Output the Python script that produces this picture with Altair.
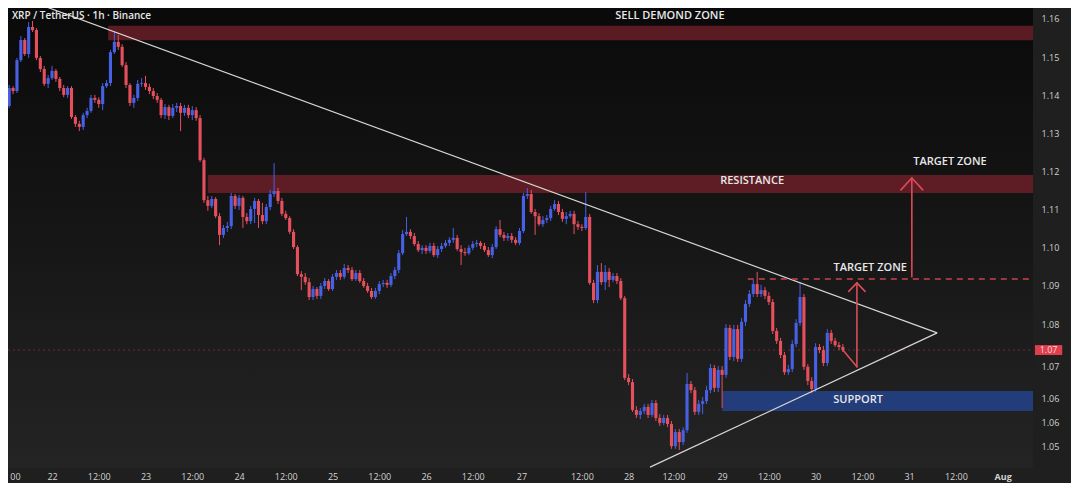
import json
import altair as alt
import pandas as pd

# ---------------- data (hourly candles) ----------------
first_open = 1.1372
close = [
    1.1419, 1.1411, 1.1492, 1.1545, 1.1508, 1.1579, 1.1571, 1.1498, 1.1469, 1.1430,
    1.1445, 1.1464, 1.1443, 1.1419, 1.1401, 1.1419, 1.1343, 1.1325, 1.1317, 1.1348,
    1.1359, 1.1393, 1.1388, 1.1377, 1.1424, 1.1432, 1.1513, 1.1540, 1.1527, 1.1479,
    1.1427, 1.1380, 1.1393, 1.1430, 1.1432, 1.1422, 1.1411, 1.1398, 1.1388, 1.1348,
    1.1369, 1.1346, 1.1367, 1.1372, 1.1354, 1.1367, 1.1348, 1.1361, 1.1340, 1.1230,
    1.1125, 1.1110, 1.1128, 1.1083, 1.1034, 1.1052, 1.1057, 1.1136, 1.1110, 1.1131,
    1.1081, 1.1070, 1.1102, 1.1123, 1.1086, 1.1070, 1.1107, 1.1141, 1.1149, 1.1123,
    1.1089, 1.1078, 1.1042, 1.1002, 1.0931, 1.0924, 1.0910, 1.0871, 1.0892, 1.0874,
    1.0900, 1.0913, 1.0892, 1.0924, 1.0934, 1.0924, 1.0947, 1.0942, 1.0918, 1.0934,
    1.0913, 1.0900, 1.0887, 1.0871, 1.0887, 1.0905, 1.0908, 1.0903, 1.0926, 1.0942,
    1.0986, 1.1036, 1.1042, 1.1031, 1.1010, 1.0994, 1.1000, 1.0992, 1.1005, 1.0981,
    1.0997, 1.1005, 1.1013, 1.1021, 1.1026, 1.0997, 1.0989, 1.0986, 1.1000, 1.1010,
    1.1013, 1.1005, 1.0994, 1.0981, 1.1002, 1.1049, 1.1034, 1.1026, 1.1031, 1.1021,
    1.1013, 1.1044, 1.1136, 1.1141, 1.1094, 1.1083, 1.1062, 1.1073, 1.1078, 1.1102,
    1.1115, 1.1094, 1.1076, 1.1083, 1.1089, 1.1062, 1.1055, 1.1052, 1.1081, 1.0908,
    1.0863, 1.0937, 1.0910, 1.0937, 1.0916, 1.0926, 1.0913, 1.0868, 1.0659, 1.0648,
    1.0575, 1.0562, 1.0572, 1.0583, 1.0562, 1.0593, 1.0554, 1.0541, 1.0554, 1.0538,
    1.0480, 1.0517, 1.0491, 1.0522, 1.0643, 1.0627, 1.0570, 1.0591, 1.0598, 1.0627,
    1.0685, 1.0633, 1.0680, 1.0667, 1.0790, 1.0714, 1.0787, 1.0709, 1.0806, 1.0853,
    1.0879, 1.0905, 1.0879, 1.0889, 1.0874, 1.0858, 1.0782, 1.0756, 1.0719, 1.0674,
    1.0682, 1.0748, 1.0803, 1.0871, 1.0688, 1.0651, 1.0630, 1.0740, 1.0732, 1.0698,
    1.0777, 1.0756, 1.0745, 1.0740, 1.0732,
]
high = [
    1.1427, 1.1424, 1.1498, 1.1555, 1.1550, 1.1592, 1.1595, 1.1576, 1.1503, 1.1477,
    1.1453, 1.1477, 1.1469, 1.1448, 1.1427, 1.1424, 1.1424, 1.1348, 1.1333, 1.1354,
    1.1367, 1.1401, 1.1401, 1.1395, 1.1432, 1.1440, 1.1519, 1.1566, 1.1558, 1.1534,
    1.1487, 1.1432, 1.1401, 1.1440, 1.1445, 1.1451, 1.1430, 1.1419, 1.1406, 1.1393,
    1.1377, 1.1375, 1.1377, 1.1380, 1.1380, 1.1375, 1.1375, 1.1372, 1.1369, 1.1348,
    1.1236, 1.1136, 1.1136, 1.1133, 1.1091, 1.1060, 1.1068, 1.1144, 1.1141, 1.1139,
    1.1136, 1.1091, 1.1110, 1.1131, 1.1128, 1.1118, 1.1115, 1.1152, 1.1222, 1.1157,
    1.1131, 1.1097, 1.1083, 1.1049, 1.1007, 1.0939, 1.0934, 1.0921, 1.0900, 1.0897,
    1.0908, 1.0921, 1.0918, 1.0931, 1.0942, 1.0942, 1.0958, 1.0955, 1.0950, 1.0942,
    1.0942, 1.0921, 1.0908, 1.0895, 1.0895, 1.0913, 1.0916, 1.0916, 1.0934, 1.0950,
    1.0994, 1.1047, 1.1081, 1.1049, 1.1039, 1.1018, 1.1007, 1.1007, 1.1013, 1.1013,
    1.1005, 1.1013, 1.1021, 1.1028, 1.1052, 1.1034, 1.1007, 1.1000, 1.1007, 1.1018,
    1.1021, 1.1018, 1.1013, 1.1002, 1.1010, 1.1057, 1.1073, 1.1042, 1.1039, 1.1039,
    1.1028, 1.1052, 1.1144, 1.1157, 1.1152, 1.1102, 1.1091, 1.1083, 1.1086, 1.1110,
    1.1125, 1.1123, 1.1102, 1.1094, 1.1097, 1.1097, 1.1070, 1.1062, 1.1146, 1.1089,
    1.0916, 1.0955, 1.0960, 1.0955, 1.0947, 1.0934, 1.0934, 1.0921, 1.0874, 1.0669,
    1.0656, 1.0585, 1.0580, 1.0591, 1.0591, 1.0601, 1.0601, 1.0564, 1.0562, 1.0562,
    1.0546, 1.0525, 1.0525, 1.0530, 1.0672, 1.0651, 1.0635, 1.0601, 1.0609, 1.0638,
    1.0695, 1.0693, 1.0690, 1.0690, 1.0800, 1.0798, 1.0798, 1.0798, 1.0816, 1.0863,
    1.0889, 1.0916, 1.0937, 1.0903, 1.0897, 1.0884, 1.0866, 1.0790, 1.0764, 1.0727,
    1.0693, 1.0758, 1.0813, 1.0910, 1.0879, 1.0695, 1.0661, 1.0750, 1.0748, 1.0743,
    1.0787, 1.0785, 1.0764, 1.0753, 1.0748,
]
low = [
    1.1367, 1.1403, 1.1406, 1.1487, 1.1503, 1.1498, 1.1566, 1.1492, 1.1461, 1.1424,
    1.1419, 1.1440, 1.1435, 1.1411, 1.1395, 1.1393, 1.1338, 1.1317, 1.1306, 1.1309,
    1.1340, 1.1354, 1.1380, 1.1367, 1.1361, 1.1419, 1.1424, 1.1508, 1.1519, 1.1474,
    1.1419, 1.1372, 1.1367, 1.1385, 1.1422, 1.1414, 1.1403, 1.1390, 1.1380, 1.1340,
    1.1338, 1.1335, 1.1340, 1.1356, 1.1306, 1.1346, 1.1340, 1.1335, 1.1333, 1.1225,
    1.1118, 1.1097, 1.1104, 1.1078, 1.1007, 1.1026, 1.1042, 1.1049, 1.1102, 1.1099,
    1.1052, 1.1062, 1.1062, 1.1065, 1.1052, 1.1062, 1.1062, 1.1099, 1.1133, 1.1115,
    1.1083, 1.1073, 1.1036, 1.0997, 1.0926, 1.0889, 1.0903, 1.0863, 1.0863, 1.0866,
    1.0866, 1.0892, 1.0887, 1.0887, 1.0916, 1.0916, 1.0918, 1.0934, 1.0913, 1.0913,
    1.0908, 1.0895, 1.0882, 1.0866, 1.0866, 1.0879, 1.0897, 1.0895, 1.0897, 1.0918,
    1.0934, 1.0981, 1.1031, 1.1023, 1.1005, 1.0989, 1.0984, 1.0984, 1.0986, 1.0976,
    1.0973, 1.0989, 1.1000, 1.1005, 1.1013, 1.0992, 1.0955, 1.0979, 1.0981, 1.0994,
    1.1002, 1.0997, 1.0989, 1.0976, 1.0973, 1.0997, 1.1028, 1.1018, 1.1018, 1.1013,
    1.1007, 1.1007, 1.1039, 1.1128, 1.1089, 1.1034, 1.1057, 1.1055, 1.1065, 1.1070,
    1.1097, 1.1086, 1.1068, 1.1062, 1.1078, 1.1036, 1.1047, 1.1044, 1.1047, 1.0903,
    1.0855, 1.0855, 1.0903, 1.0889, 1.0897, 1.0910, 1.0905, 1.0863, 1.0653, 1.0640,
    1.0570, 1.0554, 1.0551, 1.0564, 1.0554, 1.0556, 1.0546, 1.0533, 1.0535, 1.0530,
    1.0473, 1.0473, 1.0470, 1.0483, 1.0515, 1.0619, 1.0562, 1.0562, 1.0564, 1.0591,
    1.0619, 1.0622, 1.0622, 1.0580, 1.0659, 1.0706, 1.0703, 1.0701, 1.0701, 1.0795,
    1.0845, 1.0871, 1.0871, 1.0871, 1.0866, 1.0850, 1.0774, 1.0748, 1.0711, 1.0667,
    1.0667, 1.0674, 1.0740, 1.0795, 1.0680, 1.0640, 1.0619, 1.0622, 1.0724, 1.0690,
    1.0690, 1.0748, 1.0740, 1.0732, 1.0727,
]
# hours relative to Jul 22 00:00 (one candle per hour)
hours = list(range(-11, -11 + len(close)))
open_ = [first_open] + close[:-1]

# axis ticks (hour positions as drawn) and labels
x_tick_pos = [-9.5, 0, 12, 24, 36, 48, 60, 72, 84, 96, 108, 120.5, 136, 148, 159.5,
              172, 184, 196, 208, 220, 232, 244]
x_tick_text = ["00", "22", "12:00", "23", "12:00", "24", "12:00", "25", "12:00", "26",
               "12:00", "27", "12:00", "28", "12:00", "29", "12:00", "30", "12:00",
               "31", "12:00", "Aug"]
y_tick_val = [1.16, 1.15, 1.14, 1.13, 1.12, 1.11, 1.10, 1.09, 1.08,
              1.0688, 1.0606, 1.0541, 1.0478]
y_tick_text = ["1.16", "1.15", "1.14", "1.13", "1.12", "1.11", "1.10", "1.09", "1.08",
               "1.07", "1.06", "1.06", "1.05"]

# zones
zone_name = ["SELL DEMOND ZONE", "RESISTANCE", "SUPPORT"]
zone_h1 = [14.4, 40.0, 172.0]
zone_top = [1.1582, 1.1191, 1.0625]
zone_bot = [1.1544, 1.1144, 1.0572]
zone_color = ["#5a1b22", "#5e1d25", "#233c7a"]

# drawn trend lines (start/end points in hours, price)
trend_h1 = [-1.3, 153.5]
trend_p1 = [1.1631, 1.0425]
trend_h2 = [227.2, 227.2]
trend_p2 = [1.0777, 1.0777]

target_level = 1.0918
target_start = 178.6

# arrows: segments
arrow_h1 = [203.0, 206.6, 204.5, 206.6, 220.7, 217.9, 220.7]
arrow_p1 = [1.0732, 1.0688, 1.0886, 1.0908, 1.0924, 1.1152, 1.1183]
arrow_h2 = [206.6, 206.6, 206.6, 208.7, 220.7, 220.7, 223.5]
arrow_p2 = [1.0688, 1.0908, 1.0908, 1.0886, 1.1183, 1.1183, 1.1152]

# annotation texts
label_text = ["SELL DEMOND ZONE", "RESISTANCE", "TARGET ZONE", "TARGET ZONE", "SUPPORT"]
label_h = [158.6, 179.7, 230.5, 210.0, 206.9]
label_p = [1.1609, 1.1175, 1.1225, 1.0947, 1.0601]
title_text = "XRP / TetherUS · 1h · Binance"

# ---------------- chart ----------------
W, H = 1025, 460
X_DOM = [-11.3, 251.8]
Y_DOM = [1.04228, 1.16288]
BLUE, RED = "#4761e6", "#e6505c"
FONT = "Open Sans"

candles = pd.DataFrame({"h": hours, "open": open_, "high": high, "low": low, "close": close})
candles["dir"] = ["up" if c >= o else "down" for o, c in zip(open_, close)]

xs = alt.Scale(domain=X_DOM, nice=False, zero=False)
ys = alt.Scale(domain=Y_DOM, nice=False, zero=False)

x_label_expr = "{}[indexof({}, datum.value)]".format(json.dumps(x_tick_text), json.dumps(x_tick_pos))
y_label_expr = "{}[indexof({}, datum.value)]".format(json.dumps(y_tick_text), json.dumps(y_tick_val))

x_axis = alt.Axis(values=x_tick_pos, labelExpr=x_label_expr, title=None, domain=False,
                  ticks=False, grid=False, labelColor="#d2d2d2", labelFont=FONT,
                  labelFontSize=9, labelPadding=4, labelAngle=0, labelOverlap=False,
                  labelFlush=False,
                  labelFontWeight={"condition": {"test": "datum.value > 240", "value": "bold"},
                                   "value": "normal"})
y_axis = alt.Axis(orient="right", values=y_tick_val, labelExpr=y_label_expr, title=None,
                  domain=False, ticks=False, grid=False, labelColor="#cfcfcf",
                  labelFont=FONT, labelFontSize=9, labelPadding=8, labelOverlap=False)


def X(f):
    return alt.X(f, type="quantitative", scale=xs, axis=x_axis)


def Y(f):
    return alt.Y(f, type="quantitative", scale=ys, axis=y_axis)


bg = alt.Chart(pd.DataFrame({"k": [0]})).mark_rect(
    color=alt.Gradient(gradient="linear",
                       stops=[alt.GradientStop(color="#0a0a0a", offset=0),
                              alt.GradientStop(color="#161616", offset=0.5),
                              alt.GradientStop(color="#242424", offset=1)],
                       x1=0, x2=0, y1=0, y2=1)
).encode(x=alt.value(0), x2=alt.value(W), y=alt.value(0), y2=alt.value(H))

zones = pd.DataFrame({"name": zone_name, "h1": zone_h1, "h2": [X_DOM[1]] * 3,
                      "top": zone_top, "bot": zone_bot, "col": zone_color})
zone_layer = alt.Chart(zones).mark_rect(clip=True).encode(
    x=X("h1"), x2=alt.X2("h2"), y=Y("top"), y2=alt.Y2("bot"),
    color=alt.Color("col:N", scale=None, legend=None))

cp = pd.DataFrame({"h1": [X_DOM[0]], "h2": [X_DOM[1]], "p": [close[-1]]})
cp_layer = alt.Chart(cp).mark_rule(color="#6a2a30", strokeDash=[2, 3], strokeWidth=1, clip=True).encode(
    x=X("h1"), x2=alt.X2("h2"), y=Y("p"))

color_enc = alt.Color("dir:N", scale=alt.Scale(domain=["up", "down"], range=[BLUE, RED]), legend=None)
wicks = alt.Chart(candles).mark_rule(strokeWidth=1, clip=True).encode(
    x=X("h"), y=Y("low"), y2=alt.Y2("high"), color=color_enc)
bodies = alt.Chart(candles).transform_calculate(
    b1="datum.h - 0.4", b2="datum.h + 0.4"
).mark_rect(clip=True).encode(
    x=X("b1"), x2=alt.X2("b2"), y=Y("open"), y2=alt.Y2("close"), color=color_enc)

trend = pd.DataFrame({"h1": trend_h1, "p1": trend_p1, "h2": trend_h2, "p2": trend_p2})
trend_layer = alt.Chart(trend).mark_rule(color="#d6d6d6", strokeWidth=1.2, clip=True).encode(
    x=X("h1"), y=Y("p1"), x2=alt.X2("h2"), y2=alt.Y2("p2"))

tgt = pd.DataFrame({"h1": [target_start], "h2": [X_DOM[1]], "p": [target_level]})
tgt_layer = alt.Chart(tgt).mark_rule(color="#c9434e", strokeDash=[6, 5], strokeWidth=1.5, clip=True).encode(
    x=X("h1"), x2=alt.X2("h2"), y=Y("p"))

arrows = pd.DataFrame({"h1": arrow_h1, "p1": arrow_p1, "h2": arrow_h2, "p2": arrow_p2})
arrow_layer = alt.Chart(arrows).mark_rule(color="#dc4b57", strokeWidth=1.6, strokeCap="round", clip=True).encode(
    x=X("h1"), y=Y("p1"), x2=alt.X2("h2"), y2=alt.Y2("p2"))

labels = pd.DataFrame({"t": label_text, "h": label_h, "p": label_p})
label_layer = alt.Chart(labels).mark_text(
    color="#e8e8e8", font=FONT, fontSize=11, fontWeight=600, align="center", baseline="middle"
).encode(x=X("h"), y=Y("p"), text="t:N")

title_df = pd.DataFrame({"t": [title_text], "h": [-10.3], "p": [1.1609]})
title_layer = alt.Chart(title_df).mark_text(
    color="#e6e6e6", font=FONT, fontSize=10, fontWeight=600, align="left", baseline="middle"
).encode(x=X("h"), y=Y("p"), text="t:N")

pbox = pd.DataFrame({"h1": [252.3], "h2": [259.3], "top": [1.0745], "bot": [1.0719],
                     "hc": [255.8], "p": [close[-1]], "t": ["{:.2f}".format(close[-1])]})
pbox_rect = alt.Chart(pbox).mark_rect(color="#df3f4c", clip=False).encode(
    x=X("h1"), x2=alt.X2("h2"), y=Y("top"), y2=alt.Y2("bot"))
pbox_text = alt.Chart(pbox).mark_text(
    color="#ffd9dc", font=FONT, fontSize=9, align="center", baseline="middle", clip=False
).encode(x=X("hc"), y=Y("p"), text="t:N")

chart = alt.layer(
    bg, zone_layer, cp_layer, wicks, bodies, trend_layer, tgt_layer, arrow_layer,
    label_layer, title_layer, pbox_rect, pbox_text
).properties(
    width=W, height=H,
    padding={"left": 0, "top": 0, "right": 38, "bottom": 15},
    autosize=alt.AutoSizeParams(type="none"),
    background="#1f1f1f",
).configure_view(strokeWidth=0)

chart.save("out.html", embed_options={"renderer": "svg", "actions": False})
